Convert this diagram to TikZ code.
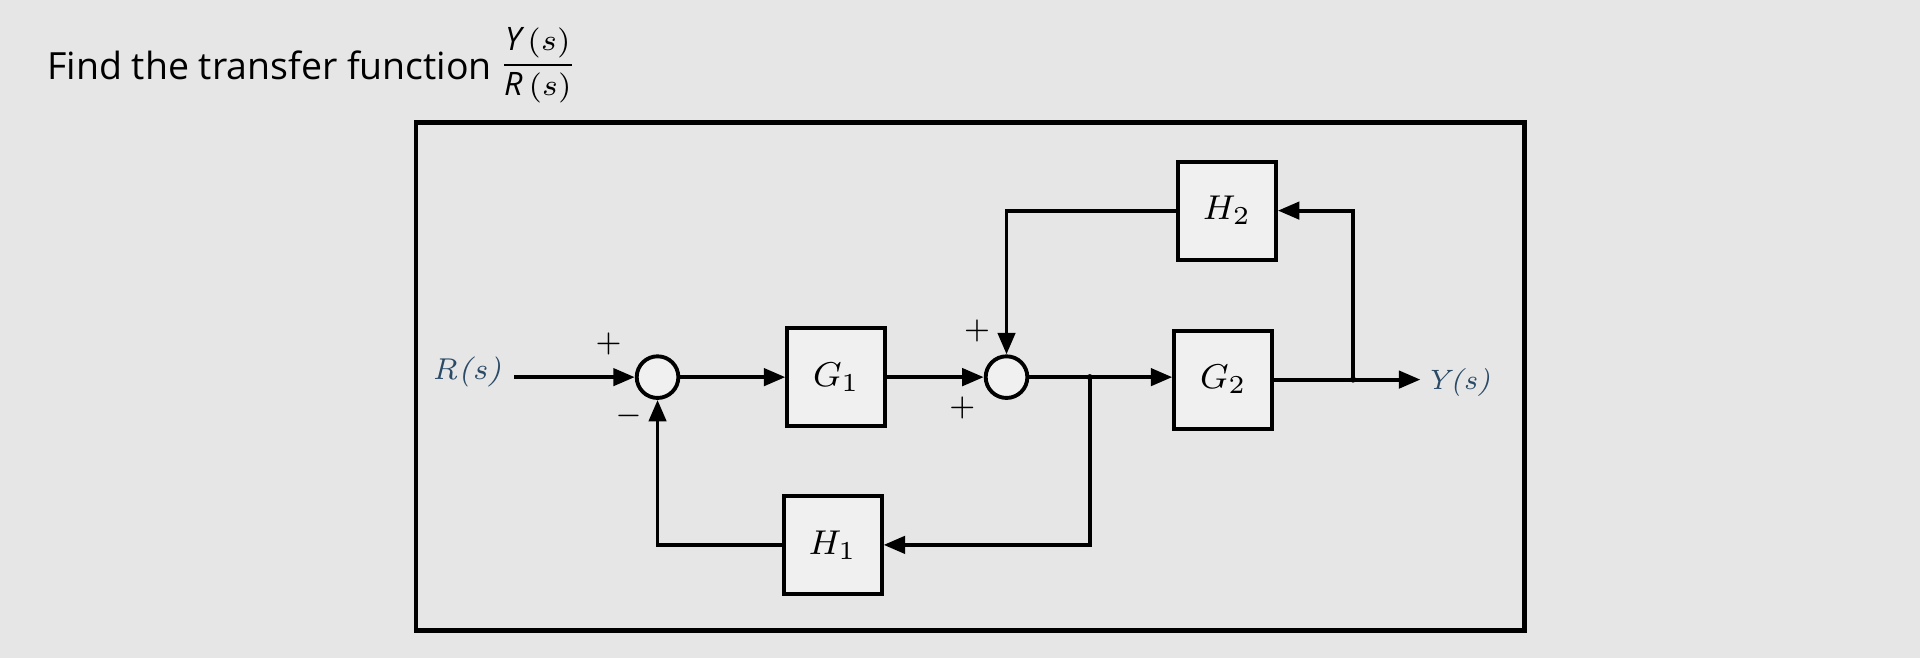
\documentclass[tikz,border=0pt]{standalone}
\usepackage{fontspec}
\setsansfont{Open Sans}
\usetikzlibrary{arrows.meta}
\definecolor{bg}{HTML}{E6E6E6}
\definecolor{lbl}{HTML}{2A4A66}
\begin{document}
\begin{tikzpicture}[x=0.01cm,y=-0.01cm,
  blk/.style={draw,line width=0.9pt,fill=white!40!bg,minimum width=0.8cm,minimum height=0.8cm,font=\fontsize{8}{9}\selectfont\itshape},
  sumc/.style={draw,circle,line width=0.9pt,fill=white!40!bg,minimum size=0.34cm,inner sep=0pt},
  sig/.style={line width=0.9pt,-{Triangle[length=5pt,width=4pt]}},
  ln/.style={line width=0.9pt},
  sgn/.style={font=\fontsize{7}{8}\selectfont}]
\useasboundingbox[fill=bg] (0,0) rectangle (1568,537);
\node[anchor=west,font=\sffamily\fontsize{8.7}{11}\selectfont,inner sep=0pt] (title) at (38,53) {Find the transfer function};
\node[font=\sffamily\fontsize{7.5}{9}\selectfont,inner sep=0pt,anchor=west] (frac) at (title.east) {\,$\displaystyle\frac{\textit{Y}\,(s)}{\textit{R}\,(s)}$};
\draw[line width=1pt] (340,100) rectangle (1245,515);
\node[text=lbl,font=\fontsize{7}{8}\selectfont\itshape,anchor=east,inner sep=1pt] (R) at (414,304) {R(s)};
\coordinate (rin) at (420,308);
\node[sumc] (s1) at (537,308) {};
\node[sumc] (s2) at (822,308) {};
\node[blk] (G1) at (683,308) {$G_1$};
\node[blk] (G2) at (999,310) {$G_2$};
\node[blk] (H1) at (680,445) {$H_1$};
\node[blk] (H2) at (1002,172) {$H_2$};
\node[text=lbl,font=\fontsize{6.5}{8}\selectfont\itshape,anchor=west,inner sep=1pt] (Y) at (1160,312) {Y(s)};
\coordinate (b1) at (890,308);
\coordinate (b2) at (1105,310);
\draw[sig] (rin) -- (s1.west);
\draw[sig] (s1.east) -- (G1.west);
\draw[sig] (G1.east) -- (s2.west);
\draw[ln] (s2.east) -- (b1);
\draw[sig] (b1) -- (b1 -| G2.west);
\draw[ln] (G2.east) -- (b2);
\draw[sig] (b2) -- (b2 -| Y.west);
\draw[sig] (b2) |- (H2.east);
\draw[sig] (H2.west) -| (s2.north);
\draw[sig] (b1) |- (H1.east);
\draw[sig] (H1.west) -| (s1.south);
\fill (b1) circle (2.5); \fill (b2) circle (2.5);
\node[sgn] (p1) at (497,281) {$+$};
\node[sgn] (m1) at (514,340) {$-$};
\node[sgn] (p2) at (798,270) {$+$};
\node[sgn] (p3) at (786,333) {$+$};
\end{tikzpicture}
\end{document}
